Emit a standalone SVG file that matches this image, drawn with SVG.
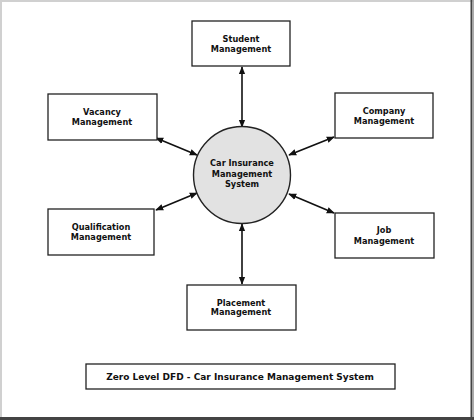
<svg xmlns="http://www.w3.org/2000/svg" width="474" height="420" viewBox="0 0 474 420">
<defs>
<style>
.box{fill:#fff;stroke:#222;stroke-width:1.3}
.t{font-family:"DejaVu Sans",sans-serif;font-weight:bold;font-size:8.2px;fill:#111;text-anchor:middle}
.title{font-size:9px}
.flow{stroke:#111;stroke-width:1.6;fill:none;marker-start:url(#ah);marker-end:url(#ah)}
</style>
<marker id="ah" viewBox="0 0 10 10" refX="9" refY="5" markerWidth="8" markerHeight="8" orient="auto-start-reverse" markerUnits="userSpaceOnUse">
<path d="M0,1 L10,5 L0,9 Z" fill="#111"/>
</marker>
</defs>
<rect x="0" y="0" width="474" height="420" fill="#fff"/>
<rect x="0" y="0" width="474" height="2" fill="#d0d0d0"/>
<rect x="0" y="0" width="2" height="420" fill="#d0d0d0"/>
<rect x="470.5" y="0" width="2" height="420" fill="#444"/>
<rect x="472.5" y="0" width="1.5" height="420" fill="#aaa"/>
<rect x="0" y="417" width="474" height="3" fill="#444"/>
<g id="connectors">
<line class="flow" x1="242" y1="67" x2="242" y2="127"/>
<line class="flow" x1="156" y1="138" x2="197" y2="155"/>
<line class="flow" x1="334" y1="137" x2="289" y2="155"/>
<line class="flow" x1="156" y1="210" x2="197" y2="193"/>
<line class="flow" x1="334" y1="213" x2="289" y2="194"/>
<line class="flow" x1="242" y1="224" x2="242" y2="284"/>
</g>
<g id="student">
<rect class="box" x="192" y="21" width="98" height="45"/>
<text class="t" x="241" y="42">Student</text>
<text class="t" x="241" y="52">Management</text>
</g>
<g id="vacancy">
<rect class="box" x="48" y="94" width="109" height="46"/>
<text class="t" x="102" y="115">Vacancy</text>
<text class="t" x="102" y="125">Management</text>
</g>
<g id="company">
<rect class="box" x="335" y="93" width="98" height="45"/>
<text class="t" x="384" y="114">Company</text>
<text class="t" x="384" y="124">Management</text>
</g>
<g id="system">
<circle cx="242" cy="175" r="48.5" fill="#e2e2e2" stroke="#222" stroke-width="1.4"/>
<text class="t" x="242" y="166">Car Insurance</text>
<text class="t" x="242" y="177">Management</text>
<text class="t" x="242" y="187">System</text>
</g>
<g id="qualification">
<rect class="box" x="48" y="209" width="106" height="46"/>
<text class="t" x="101" y="230">Qualification</text>
<text class="t" x="101" y="240">Management</text>
</g>
<g id="job">
<rect class="box" x="335" y="213" width="99" height="45"/>
<text class="t" x="384" y="233">Job</text>
<text class="t" x="384" y="244">Management</text>
</g>
<g id="placement">
<rect class="box" x="187" y="285" width="109" height="45"/>
<text class="t" x="241" y="306">Placement</text>
<text class="t" x="241" y="315">Management</text>
</g>
<g id="title">
<rect class="box" x="86" y="364" width="309" height="25"/>
<text class="t title" x="240" y="380">Zero Level DFD - Car Insurance Management System</text>
</g>
</svg>
